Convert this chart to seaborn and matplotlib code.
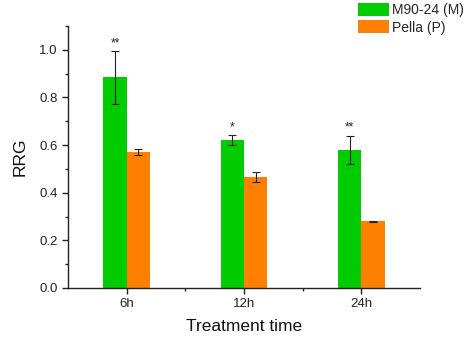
import numpy as np
import pandas as pd
import matplotlib
matplotlib.use("Agg")
import matplotlib.pyplot as plt
import seaborn as sns
from matplotlib.ticker import MultipleLocator

categories = ["6h", "12h", "24h"]
groups = ["M90-24 (M)", "Pella (P)"]
m_values = [0.884, 0.622, 0.580]
m_errors = [0.110, 0.020, 0.060]
p_values = [0.571, 0.466, 0.280]
p_errors = [0.012, 0.020, 0.003]
m_marks = ["**", "*", "**"]

sns.set_style("ticks")
plt.rcParams["font.family"] = ["Liberation Sans", "DejaVu Sans"]

df = pd.DataFrame({
    "time": categories * 2,
    "group": [groups[0]] * 3 + [groups[1]] * 3,
    "RRG": m_values + p_values,
})
errs = m_errors + p_errors

fig = plt.figure(figsize=(4.74, 3.49), dpi=100)
ax = fig.add_axes([0.1435, 0.1748, 0.7425, 0.7507])
sns.barplot(data=df, x="time", y="RRG", hue="group", order=categories,
            hue_order=groups, palette=["#00CC00", "#FF8000"], width=0.4,
            errorbar=None, saturation=1, ax=ax, linewidth=0)

# error bars at bar centers (patch order: hue group then category)
bars = [p for p in ax.patches if p.get_height() > 0][:6]
for bar, err in zip(bars, errs):
    xc = bar.get_x() + bar.get_width() / 2
    ax.errorbar(xc, bar.get_height(), yerr=err, color="#222222", capsize=3,
                elinewidth=0.8, capthick=0.8, fmt="none")
for bar, err, mk in zip(bars[:3], m_errors, m_marks):
    xc = bar.get_x() + bar.get_width() / 2
    ax.text(xc, bar.get_height() + err + 0.008, mk, ha="center", va="bottom",
            fontsize=8.5, color="#222222")

ax.set_xlim(-0.5, 2.5)
ax.set_ylim(0, 1.1)
ax.yaxis.set_major_locator(MultipleLocator(0.2))
ax.yaxis.set_minor_locator(MultipleLocator(0.1))
ax.set_xticks([0, 1, 2])
ax.set_xticks([0.5, 1.5], minor=True)
ax.set_yticklabels([f"{v:.1f}" for v in ax.get_yticks()])
ax.tick_params(axis="both", which="major", length=4, width=1, labelsize=9.5,
               colors="#222222")
ax.tick_params(axis="both", which="minor", length=2.5, width=1)
ax.set_xlabel("Treatment time", fontsize=12.5, color="#111111", labelpad=6)
ax.set_ylabel("RRG", fontsize=12.5, color="#111111", labelpad=8)
for s in ["left", "bottom"]:
    ax.spines[s].set_linewidth(1)
    ax.spines[s].set_color("#222222")
sns.despine(ax=ax)

ax.legend(title=None, frameon=False, loc="upper left",
          bbox_to_anchor=(0.741, 1.012), bbox_transform=fig.transFigure,
          fontsize=10, handlelength=2.2, handleheight=1.05, handletextpad=0.2,
          labelspacing=0.25, borderpad=0)

fig.savefig("out.png", dpi=100)
